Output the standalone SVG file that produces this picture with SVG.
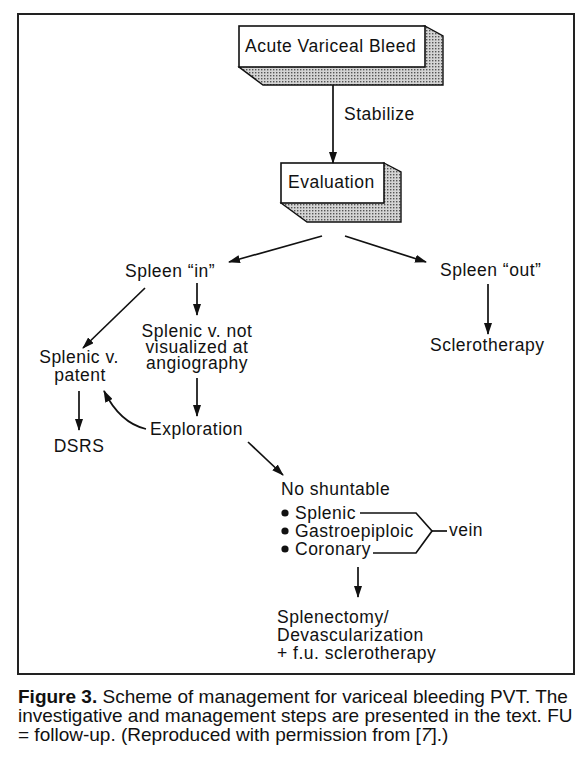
<svg xmlns="http://www.w3.org/2000/svg" width="584" height="760" viewBox="0 0 584 760">
<style>
.t{font-family:"Liberation Sans",Arial,Helvetica,sans-serif;font-size:17.5px;letter-spacing:0.5px;fill:#111}
.m{text-anchor:middle}
.cap{font-family:"Liberation Sans",Arial,Helvetica,sans-serif;font-size:19px;fill:#111}
.ln{stroke:#111;stroke-width:1.7;fill:none}
.front{fill:#fff;stroke:#111;stroke-width:1.6}
.shade{fill:url(#stip);stroke:#111;stroke-width:1.4}
</style>
<defs>
<pattern id="stip" width="3" height="3" patternUnits="userSpaceOnUse">
<rect width="3" height="3" fill="#d4d4d4"/>
<rect width="1.4" height="1.4" fill="#555"/>
</pattern>
<marker id="ah" viewBox="0 0 12 8" refX="11" refY="4" markerWidth="12" markerHeight="8" markerUnits="userSpaceOnUse" orient="auto">
<path d="M0,0 L12,4 L0,8 Z" fill="#111"/>
</marker>
</defs>
<rect x="18" y="14" width="556" height="660" fill="none" stroke="#222" stroke-width="2"/>

<g id="acute">
<polygon class="shade" points="425,26 443,36 443,85 263,85 239,67"/>
<rect class="front" x="239" y="26" width="186" height="41"/>
<text class="t" x="245" y="52">Acute Variceal Bleed</text>
</g>

<g id="evaluation">
<polygon class="shade" points="384,163 401,172 401,222 307,222 281,203"/>
<rect class="front" x="281" y="163" width="103" height="40"/>
<text class="t" x="288" y="188">Evaluation</text>
</g>

<g id="spleen-in"><text class="t" x="125" y="277">Spleen “in”</text></g>
<g id="spleen-out"><text class="t" x="440" y="276">Spleen “out”</text></g>
<g id="sclerotherapy"><text class="t" x="430" y="351">Sclerotherapy</text></g>
<g id="splenic-not-visualized">
<text class="t m" x="197" y="337">Splenic v. not</text>
<text class="t m" x="197" y="353">visualized at</text>
<text class="t m" x="197" y="369">angiography</text>
</g>
<g id="splenic-patent">
<text class="t m" x="79" y="363">Splenic v.</text>
<text class="t m" x="80" y="381">patent</text>
</g>
<g id="dsrs"><text class="t m" x="79" y="452">DSRS</text></g>
<g id="exploration"><text class="t" x="150" y="435">Exploration</text></g>
<g id="no-shuntable">
<text class="t" x="281" y="495">No shuntable</text>
<circle cx="285" cy="513" r="3.6" fill="#111"/>
<circle cx="285" cy="531" r="3.6" fill="#111"/>
<circle cx="285" cy="549" r="3.6" fill="#111"/>
<text class="t" x="295" y="519">Splenic</text>
<text class="t" x="295" y="537">Gastroepiploic</text>
<text class="t" x="295" y="555">Coronary</text>
<polyline class="ln" points="360,513 416,513 432,531 416,553 373,553"/>
<line class="ln" x1="432" y1="531" x2="447" y2="531"/>
<text class="t" x="449" y="536">vein</text>
</g>
<g id="splenectomy">
<text class="t" x="277" y="623">Splenectomy/</text>
<text class="t" x="277" y="641">Devascularization</text>
<text class="t" x="277" y="659">+ f.u. sclerotherapy</text>
</g>

<g id="connectors">
<line class="ln" x1="333" y1="85" x2="333" y2="163" marker-end="url(#ah)"/>
<text class="t" x="344" y="120">Stabilize</text>
<line class="ln" x1="322" y1="236" x2="229" y2="262" marker-end="url(#ah)"/>
<line class="ln" x1="345" y1="236" x2="426" y2="262" marker-end="url(#ah)"/>
<line class="ln" x1="197" y1="283" x2="197" y2="315" marker-end="url(#ah)"/>
<line class="ln" x1="145" y1="288" x2="83" y2="348" marker-end="url(#ah)"/>
<line class="ln" x1="488" y1="284" x2="488" y2="334" marker-end="url(#ah)"/>
<line class="ln" x1="79" y1="391" x2="79" y2="430" marker-end="url(#ah)"/>
<line class="ln" x1="197" y1="378" x2="197" y2="416" marker-end="url(#ah)"/>
<path class="ln" d="M146,429 Q120,423 104,391" marker-end="url(#ah)"/>
<line class="ln" x1="248" y1="442" x2="283" y2="475" marker-end="url(#ah)"/>
<line class="ln" x1="358" y1="567" x2="358" y2="597" marker-end="url(#ah)"/>
</g>

<g id="caption">
<text class="cap" x="18" y="703"><tspan font-weight="bold">Figure 3.</tspan> Scheme of management for variceal bleeding PVT. The</text>
<text class="cap" x="18" y="722">investigative and management steps are presented in the text. FU</text>
<text class="cap" x="18" y="741">= follow-up. (Reproduced with permission from [<tspan font-style="italic">7</tspan>].)</text>
</g>
</svg>
